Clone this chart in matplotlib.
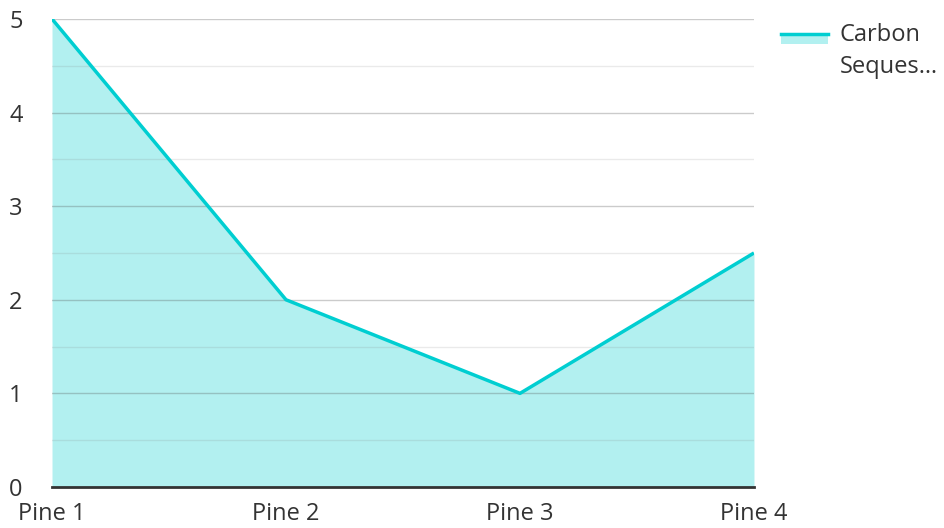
import matplotlib.pyplot as plt
from matplotlib.patches import Rectangle
from matplotlib.lines import Line2D

categories = ["Pine 1", "Pine 2", "Pine 3", "Pine 4"]
values = [5, 2, 1, 2.5]
series_name = "Carbon\nSeques…"

line_color = "#00CED1"
fill_color = "#B2F0F0"

plt.rcParams['font.family'] = ['Open Sans', 'DejaVu Sans']


class AreaHandler:
    # line on top edge, fill below it
    def legend_artist(self, legend, orig_handle, fontsize, handlebox):
        x0, y0 = handlebox.xdescent, handlebox.ydescent
        w, h = handlebox.width, handlebox.height
        ytop = y0 + h * 0.75 + 8
        rect = Rectangle((x0, ytop - 7), w, 7, facecolor=fill_color,
                         edgecolor='none', transform=handlebox.get_transform())
        ln = Line2D([x0, x0 + w], [ytop, ytop], color=line_color,
                    linewidth=2.5, transform=handlebox.get_transform())
        handlebox.add_artist(rect)
        handlebox.add_artist(ln)
        return rect


fig = plt.figure(figsize=(9.44, 5.28), dpi=100)
ax = fig.add_axes([0.0551, 0.0777, 0.7436, 0.8864])

x = list(range(len(categories)))
ax.fill_between(x, values, 0, color=fill_color, linewidth=0, zorder=1)
ax.plot(x, values, color=line_color, linewidth=2.5, zorder=3, solid_capstyle='butt')

# gridlines over the fill
for v in [0.5, 1.5, 2.5, 3.5, 4.5]:
    ax.axhline(v, color="#777777", alpha=0.15, linewidth=1, zorder=2)
for v in [1, 2, 3, 4, 5]:
    ax.axhline(v, color="#555555", alpha=0.3, linewidth=1, zorder=2)

ax.set_xlim(0, 3)
ax.set_ylim(0, 5)
ax.set_xticks(x)
ax.set_xticklabels(categories)
ax.set_yticks([0, 1, 2, 3, 4, 5])
ax.tick_params(axis='both', length=0, labelsize=17, colors="#333333")
ax.tick_params(axis='y', pad=26)
ax.tick_params(axis='x', pad=11)
for lab in ax.get_yticklabels():
    lab.set_horizontalalignment('center')

for s in ['top', 'right', 'left']:
    ax.spines[s].set_visible(False)
ax.spines['bottom'].set_color("#333333")
ax.spines['bottom'].set_linewidth(2)
ax.spines['bottom'].set_zorder(4)

leg = fig.legend([object()], [series_name], handler_map={object: AreaHandler()},
                 loc='upper left', bbox_to_anchor=(0.817, 0.975), frameon=False,
                 fontsize=17, handlelength=2.0, handleheight=0.8,
                 handletextpad=0.5, labelcolor="#333333", borderaxespad=0)
for t in leg.get_texts():
    t.set_linespacing(1.45)

fig.savefig("out.png", dpi=100)
